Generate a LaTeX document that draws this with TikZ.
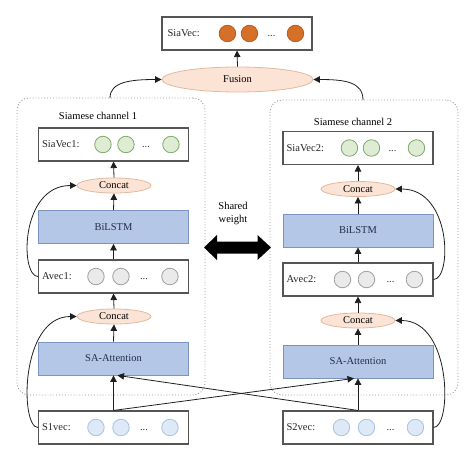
\documentclass[tikz,border=0pt]{standalone}
\usepackage{fontspec}
\setmainfont{Liberation Serif}
\usetikzlibrary{arrows.meta,shapes.geometric}
\definecolor{boxc}{RGB}{85,85,85}
\definecolor{bluef}{RGB}{180,199,231}
\definecolor{bluec}{RGB}{125,148,195}
\definecolor{bluet}{RGB}{35,45,75}
\definecolor{ellf}{RGB}{251,228,213}
\definecolor{ellc}{RGB}{226,185,158}
\definecolor{dotc}{RGB}{150,150,150}
\definecolor{arrc}{RGB}{30,30,30}
\definecolor{orf}{RGB}{214,112,40}
\definecolor{orc}{RGB}{185,90,30}
\definecolor{grf}{RGB}{222,236,212}
\definecolor{grc}{RGB}{128,168,108}
\definecolor{gyf}{RGB}{234,234,234}
\definecolor{gyc}{RGB}{160,160,160}
\definecolor{lbf}{RGB}{221,233,246}
\definecolor{lbc}{RGB}{168,194,226}
\begin{document}
\begin{tikzpicture}[x=1pt,y=-1pt,font=\fontsize{10.5}{12.5}\selectfont,
  vecbox/.style={draw=boxc,line width=1.1pt,fill=white,minimum width=150pt,minimum height=33pt,inner sep=0pt},
  bluebox/.style={draw=bluec,fill=bluef,line width=0.8pt,minimum width=150pt,minimum height=33pt,text=bluet},
  catell/.style={ellipse,draw=ellc,fill=ellf,line width=0.8pt,minimum width=74pt,minimum height=15pt,inner sep=0pt},
  arr/.style={-{Triangle[length=6.5pt,width=6.5pt]},line width=0.8pt,draw=arrc},
  dotbox/.style={draw=dotc,dotted,line width=0.9pt,rounded corners=12pt},
  vlabel/.style={anchor=west,inner sep=0pt,text=black!85},
  dc/.style={circle,minimum size=16.5pt,inner sep=0pt,line width=0.8pt},
  ocirc/.style={dc,draw=orc,fill=orf},
  gcirc/.style={dc,draw=grc,fill=grf},
  ycirc/.style={dc,draw=gyc,fill=gyf},
  bcirc/.style={dc,draw=lbc,fill=lbf},
  dots/.style={inner sep=0pt,text=black!80}]
\useasboundingbox (0,0) rectangle (474,461);

% channel frames
\node[dotbox,minimum width=188pt,minimum height=297pt] (ch1) at (111,246.5) {};
\node[dotbox,minimum width=188pt,minimum height=295pt] (ch2) at (364,247.5) {};
\node (t1) at (98,116) {Siamese channel 1};
\node (t2) at (353,122) {Siamese channel 2};

% top
\node[vecbox] (siavec) at (237,33.5) {};
\node[vlabel] (siavecl) at ([xshift=6pt]siavec.west) {SiaVec:};
\foreach \i/\o in {a/66,b/88,d/134} \node[ocirc] (sv\i) at ([xshift=\o pt]siavec.west) {};
\node[dots] (svdots) at ([xshift=110pt,yshift=-3pt]siavec.west) {...};
\node[ellipse,draw=ellc,fill=ellf,line width=0.8pt,minimum width=151pt,minimum height=25pt,inner sep=0pt] (fusion) at (237.5,79.5) {Fusion};

% channel 1
\node[vecbox] (siavec1) at (113.5,144.5) {};
\node[vlabel] (siavec1l) at ([xshift=4pt]siavec1.west) {SiaVec1:};
\foreach \i/\o in {a/65,b/88,d/133} \node[gcirc] (sa\i) at ([xshift=\o pt]siavec1.west) {};
\node[dots] (sadots) at ([xshift=108pt,yshift=-3pt]siavec1.west) {...};
\node[catell] (cat1u) at (114,185.5) {Concat};
\node[bluebox] (bilstm1) at (113.5,227) {BiLSTM};
\node[vecbox] (avec1) at (113.5,276.5) {};
\node[vlabel] (avec1l) at ([xshift=4pt]avec1.west) {Avec1:};
\foreach \i/\o in {a/58,b/83,d/132} \node[ycirc] (aa\i) at ([xshift=\o pt]avec1.west) {};
\node[dots] (aadots) at ([xshift=106pt,yshift=-3pt]avec1.west) {...};
\node[catell] (cat1l) at (114,316.5) {Concat};
\node[bluebox] (saatt1) at (113.5,358.5) {SA-Attention};
\node[vecbox] (s1vec) at (113.5,427.5) {};
\node[vlabel] (s1vecl) at ([xshift=4pt]s1vec.west) {S1vec:};
\foreach \i/\o in {a/58,b/83,d/132} \node[bcirc] (sb\i) at ([xshift=\o pt]s1vec.west) {};
\node[dots] (sbdots) at ([xshift=106pt,yshift=-3pt]s1vec.west) {...};

% channel 2
\node[vecbox] (siavec2) at (358,148) {};
\node[vlabel] (siavec2l) at ([xshift=4pt]siavec2.west) {SiaVec2:};
\foreach \i/\o in {a/67,b/89,d/134} \node[gcirc] (sc\i) at ([xshift=\o pt]siavec2.west) {};
\node[dots] (scdots) at ([xshift=110pt,yshift=-3pt]siavec2.west) {...};
\node[catell] (cat2u) at (358,189) {Concat};
\node[bluebox] (bilstm2) at (358,230.5) {BiLSTM};
\node[vecbox] (avec2) at (358,279.5) {};
\node[vlabel] (avec2l) at ([xshift=4pt]avec2.west) {Avec2:};
\foreach \i/\o in {a/60,b/84,d/132} \node[ycirc] (ac\i) at ([xshift=\o pt]avec2.west) {};
\node[dots] (acdots) at ([xshift=108pt,yshift=-3pt]avec2.west) {...};
\node[catell] (cat2l) at (358,320.5) {Concat};
\node[bluebox] (saatt2) at (358,361.5) {SA-Attention};
\node[vecbox] (s2vec) at (358,427.5) {};
\node[vlabel] (s2vecl) at ([xshift=4pt]s2vec.west) {S2vec:};
\foreach \i/\o in {a/59,b/84,d/133} \node[bcirc] (sd\i) at ([xshift=\o pt]s2vec.west) {};
\node[dots] (sddots) at ([xshift=108pt,yshift=-3pt]s2vec.west) {...};

% shared weight
\node[align=center,inner sep=0pt] (shared) at (233,213.5) {Shared\\weight};
\fill[black] (204,247.5) -- (217,235) -- (217,241.5) -- (257.5,241.5) -- (257.5,235)
  -- (271,247.5) -- (257.5,260) -- (257.5,253.5) -- (217,253.5) -- (217,260) -- cycle;

% vertical arrows
\draw[arr] (fusion.north) -- (siavec.south);
\draw[arr] (cat1u.north) -- (siavec1.south);
\draw[arr] (bilstm1.north) -- (cat1u.south);
\draw[arr] (avec1.north) -- (bilstm1.south);
\draw[arr] (cat1l.north) -- (avec1.south);
\draw[arr] (saatt1.north) -- (cat1l.south);
\draw[arr] (s1vec.north) -- (saatt1.south);
\draw[arr] (cat2u.north) -- (siavec2.south);
\draw[arr] (bilstm2.north) -- (cat2u.south);
\draw[arr] (avec2.north) -- (bilstm2.south);
\draw[arr] (cat2l.north) -- (avec2.south);
\draw[arr] (saatt2.north) -- (cat2l.south);
\draw[arr] (s2vec.north) -- (saatt2.south);

% cross arrows
\draw[arr] (s1vec.north) -- ([xshift=-4pt]saatt2.south);
\draw[arr] (s2vec.north) -- ([xshift=4pt]saatt1.south);

% skip arrows
\draw[arr] (avec1.west) .. controls (20,276.5) and (20,185.5) .. (cat1u.west);
\draw[arr] (s1vec.west) .. controls (20,427.5) and (20,316.5) .. (cat1l.west);
\draw[arr] (avec2.east) .. controls (452,279.5) and (452,189) .. (cat2u.east);
\draw[arr] (s2vec.east) .. controls (452,427.5) and (452,320.5) .. (cat2l.east);

% to fusion
\draw[arr] (110,98) .. controls (110,82) and (130,79.5) .. (fusion.west);
\draw[arr] (363,100) .. controls (363,82) and (345,79.5) .. (fusion.east);
\end{tikzpicture}
\end{document}
